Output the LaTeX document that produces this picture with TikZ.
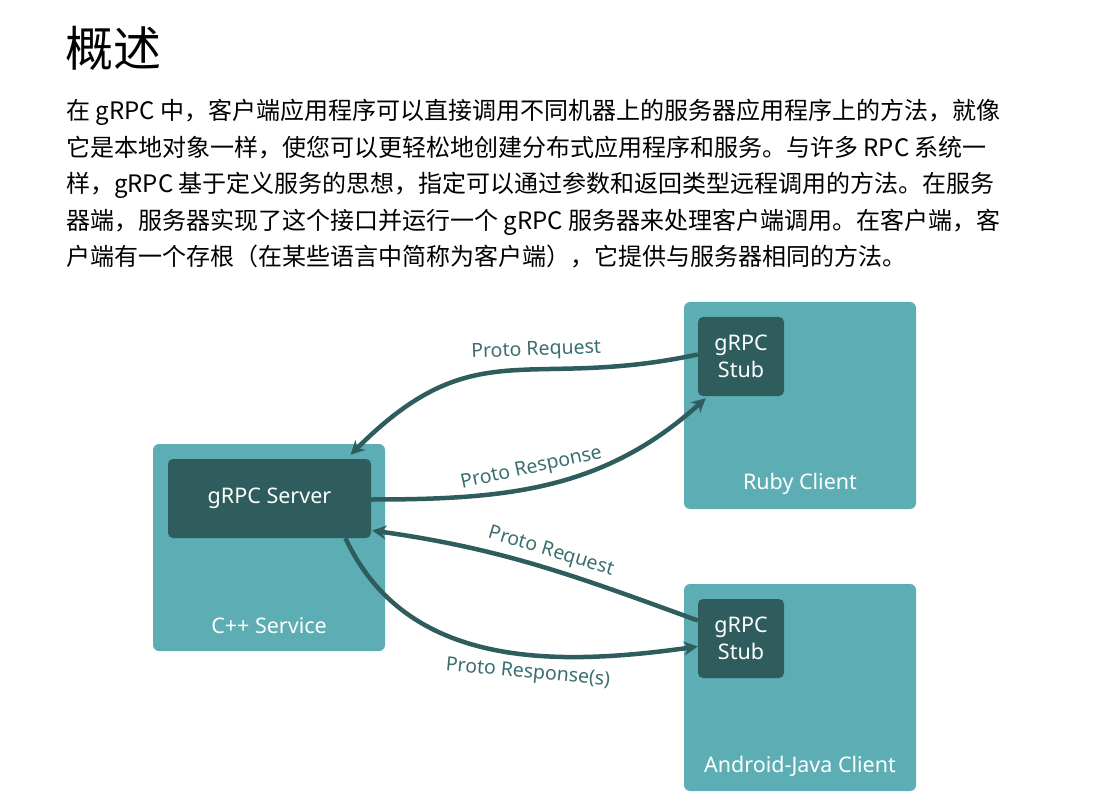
\documentclass[tikz,border=0pt]{standalone}
\usepackage{fontspec}
\setmainfont{Noto Sans}
\newfontfamily\cjk{Noto Sans CJK SC}
\usetikzlibrary{arrows.meta,positioning,calc}
\definecolor{grpcTeal}{RGB}{92, 174, 180}
\definecolor{grpcDark}{RGB}{47, 93, 94}
\definecolor{grpcLabel}{RGB}{60, 110, 112}

\begin{document}
\begin{tikzpicture}[
        x=1pt, y=-1pt,
        service/.style={rectangle, rounded corners=6pt, fill=grpcTeal, minimum width=232pt, minimum height=207pt, inner sep=0pt},
        stub/.style={rectangle, rounded corners=5pt, fill=grpcDark, text=white, align=center, font=\fontsize{21.5}{27}\selectfont, inner sep=0pt},
        caption/.style={text=white, font=\fontsize{21.5}{25}\selectfont},
        rpc/.style={-{Stealth[length=14pt,width=14pt]}, line width=4.5pt, draw=grpcDark},
        msg/.style={text=grpcLabel, font=\fontsize{19.5}{22}\selectfont, sloped}
    ]
        \useasboundingbox (0,0) rectangle (1112,805);
        % Heading and text
        \node[anchor=west, font=\cjk\fontsize{48}{54}\selectfont] (title) at (62,48) {概述};
        \node[anchor=north west, align=left, inner sep=0pt, font=\cjk\fontsize{24}{36.5}\selectfont] (intro) at (66,99)
            {在 gRPC 中，客户端应用程序可以直接调用不同机器上的服务器应用程序上的方法，就像\\
             它是本地对象一样，使您可以更轻松地创建分布式应用程序和服务。与许多 RPC 系统一\\
             样，gRPC 基于定义服务的思想，指定可以通过参数和返回类型远程调用的方法。在服务\\
             器端，服务器实现了这个接口并运行一个 gRPC 服务器来处理客户端调用。在客户端，客\\
             户端有一个存根（在某些语言中简称为客户端），它提供与服务器相同的方法。};

        % Services
        \node[service] (cpp) at (269,547.5) {};
        \node[service] (ruby) at (800,405.5) {};
        \node[service] (android) at (800,687.5) {};
        \node[caption] (cppcap) at (269,626) {C++ Service};
        \node[caption] (rubycap) at (800,484) {Ruby Client};
        \node[caption] (androidcap) at (800,766) {Android-Java Client};

        % Server and stubs
        \node[stub, minimum width=203pt, minimum height=79pt] (server) at (269.5,498.5) {gRPC Server};
        \node[stub, minimum width=86pt, minimum height=79pt] (rstub) at (741,356.5) {gRPC\\Stub};
        \node[stub, minimum width=86pt, minimum height=79pt] (astub) at (741,638.5) {gRPC\\Stub};

        % Calls
        \draw[rpc] ($(rstub.west)+(0,-2)$) to[out=192, in=45, looseness=1.25]
            node[msg, pos=0.4, above=4pt] {Proto Request} ($(server.north)+(81,-4)$);
        \draw[rpc] ($(server.east)+(0,1)$) to[out=0, in=222]
            node[msg, pos=0.45, above=4pt] {Proto Response} ($(rstub.south west)+(8,2)$);
        \draw[rpc] ($(astub.west)+(0,-18)$) to[out=160, in=-8]
            node[msg, pos=0.47, above=2pt] {Proto Request} ($(server.east)+(1,32)$);
        \draw[rpc] ($(server.south)+(76,0)$) to[out=-65, in=188]
            node[msg, pos=0.6, below=4pt] {Proto Response(s)} ($(astub.west)+(0,8)$);
    \end{tikzpicture}
\end{document}
